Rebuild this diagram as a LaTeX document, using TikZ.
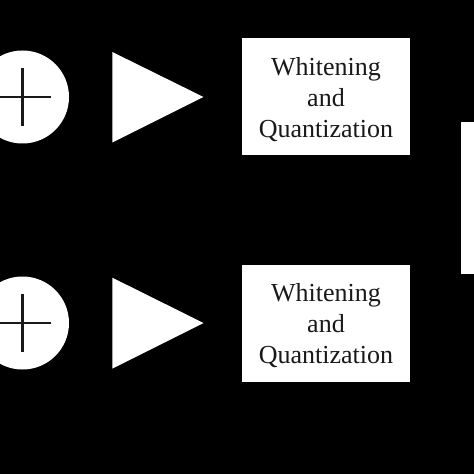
\documentclass[tikz,border=0pt]{standalone}
\usepackage{fontspec}
\setmainfont{Liberation Serif}
\tikzset{
  x=1bp,y=-1bp,
  wbox/.style={fill=white,draw=none,inner sep=0pt,minimum width=168bp,minimum height=117bp},
  wtext/.style={inner sep=0pt,align=center,font=\fontsize{26bp}{31bp}\selectfont,text=black!90},
  sumdisc/.style={circle,fill=white,draw=none,inner sep=0pt,minimum size=93bp},
  amp/.style={fill=white,draw=none},
  plusline/.style={draw=black!90,line width=2.4bp},
}
\begin{document}
\begin{tikzpicture}
\useasboundingbox (0,0) rectangle (474,474);
\fill[black] (0,0) rectangle (474,474);
\clip (0,0) rectangle (474,474);
% upper branch
\node[sumdisc] (s1) at (22.5,97) {};
\draw[plusline] (-3,97) -- (51,97);
\draw[plusline] (22.5,68) -- (22.5,125.7);
\fill[amp] (112.3,52) -- (203.5,97) -- (112.3,142.5) -- cycle;
\node[wbox] (w1) at (326.3,96.8) {};
\node[wtext] (t1) at (326,99.6) {Whitening\\and\\Quantization};
% lower branch
\node[sumdisc] (s2) at (22.5,323) {};
\draw[plusline] (-3,323) -- (51,323);
\draw[plusline] (22.5,294.3) -- (22.5,352);
\fill[amp] (112.3,277.7) -- (203.5,323) -- (112.3,368.7) -- cycle;
\node[wbox] (w2) at (326.3,323.2) {};
\node[wtext] (t2) at (326,326) {Whitening\\and\\Quantization};
% right block
\fill[white] (461.3,122) rectangle (480,274);
\end{tikzpicture}
\end{document}
